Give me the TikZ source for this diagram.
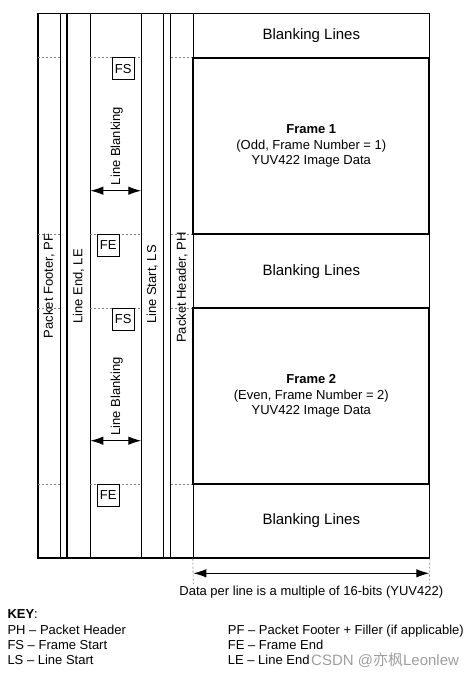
\documentclass[tikz,border=0pt]{standalone}
\usepackage{fontspec}
\setmainfont{Liberation Sans}
\newfontfamily\cjkfont{Noto Sans CJK SC}
\usetikzlibrary{arrows.meta}
\begin{document}
\begin{tikzpicture}[x=1pt,y=-1pt,
  thinline/.style={line width=1.1pt},
  lbl/.style={font=\fontsize{13}{15.5}\selectfont},
  vlabel/.style={lbl,rotate=90,inner sep=0pt},
  blankbox/.style={draw,line width=1.1pt,minimum width=236pt,inner sep=0pt,
    font=\fontsize{15}{18}\selectfont},
  framebox/.style={draw,line width=2.2pt,minimum width=236pt,inner sep=0pt,
    align=center,font=\fontsize{13}{15.5}\selectfont},
  tagbox/.style={draw,line width=1.1pt,minimum size=22pt,inner sep=0pt,
    font=\fontsize{13}{15.5}\selectfont},
  guide/.style={draw=gray,line width=0.6pt,dash pattern=on 2pt off 2pt},
  dimarrow/.style={line width=1.2pt,{Latex[length=13pt,width=8.5pt]}-{Latex[length=13pt,width=8.5pt]}},
  keytext/.style={lbl,anchor=base west,inner sep=0pt}]
\useasboundingbox (0,0) rectangle (474,676);

% column area
\coordinate (otl) at (38,13.3);
\coordinate (obr) at (193.3,558);
\draw[thinline] (otl) rectangle (obr);
\foreach \x/\n in {60.3/a,67/b,90.3/c,141.3/d,163.8/e,170.5/f}{
  \coordinate (t\n) at (\x,13.3);
  \coordinate (b\n) at (\x,558);
  \draw[thinline] (t\n) -- (b\n);
}

% dashed guides across the columns
\foreach \y/\m in {57.7/p,234.3/q,308/r,484/s}{
  \coordinate (g1\m) at (38,\y);   \coordinate (g2\m) at (60.3,\y);
  \coordinate (g3\m) at (90.3,\y); \coordinate (g4\m) at (141.3,\y);
  \coordinate (g5\m) at (170.5,\y);\coordinate (g6\m) at (193.3,\y);
  \draw[guide] (g1\m) -- (g2\m);
  \draw[guide] (g3\m) -- (g4\m);
  \draw[guide] (g5\m) -- (g6\m);
}

% right side boxes
\node[blankbox,minimum height=44.4pt] (bl1) at (311.3,35.5) {Blanking Lines};
\node[blankbox,minimum height=73.7pt] (bl2) at (311.3,271.15) {Blanking Lines};
\node[blankbox,minimum height=74pt] (bl3) at (311.3,521) {Blanking Lines};
\node[framebox,minimum height=176.6pt] (fr1) at (311.3,146) {\textbf{Frame 1}\\(Odd, Frame Number = 1)\\YUV422 Image Data};
\node[framebox,minimum height=176pt] (fr2) at (311.3,396) {\textbf{Frame 2}\\(Even, Frame Number = 2)\\YUV422 Image Data};

% column labels
\node[vlabel] (pf) at (49,286) {Packet Footer, PF};
\node[vlabel] (le) at (78.5,286.5) {Line End, LE};
\node[vlabel] (ls) at (152.3,284.5) {Line Start, LS};
\node[vlabel] (ph) at (182,287.5) {Packet Header, PH};

% FS / FE tags
\node[tagbox] (fs1) at (123.3,68.8) {FS};
\node[tagbox] (fe1) at (108.3,245.2) {FE};
\node[tagbox] (fs2) at (123.3,319.1) {FS};
\node[tagbox] (fe2) at (108.3,495.2) {FE};

% line blanking
\node[vlabel] (lb1) at (116.7,146) {Line Blanking};
\coordinate (lb1l) at (90.3,190.7); \coordinate (lb1r) at (141.3,190.7);
\draw[dimarrow] (lb1l) -- (lb1r);
\node[vlabel] (lb2) at (116.7,396.5) {Line Blanking};
\coordinate (lb2l) at (90.3,440.7); \coordinate (lb2r) at (141.3,440.7);
\draw[dimarrow] (lb2l) -- (lb2r);

% data width dimension
\coordinate (dl) at (193.3,584); \coordinate (dr) at (429.3,584);
\draw[guide] (bl3.south west) -- (dl);
\draw[guide] (bl3.south east) -- (dr);
\coordinate (al) at (193.3,573.3); \coordinate (ar) at (429.3,573.3);
\draw[dimarrow] (al) -- (ar);
\node[lbl,anchor=base,inner sep=0pt] (dtext) at (311.3,595) {Data per line is a multiple of 16-bits (YUV422)};

% key
\node[keytext] (key) at (7.3,618.2) {\textbf{KEY}:};
\node[keytext] (k1) at (7.3,634.2) {PH -- Packet Header};
\node[keytext] (k2) at (7.3,649) {FS -- Frame Start};
\node[keytext] (k3) at (7.3,664.8) {LS -- Line Start};
\node[keytext] (k4) at (227.7,634.2) {PF -- Packet Footer + Filler (if applicable)};
\node[keytext] (k5) at (227.7,649) {FE -- Frame End};
\node[keytext] (k6) at (227.7,664.8) {LE -- Line End};
\node[keytext,font=\fontsize{15}{17}\selectfont,text=black!38] (wm) at (311,665.5) {CSDN @{\cjkfont 亦枫}Leonlew};
\end{tikzpicture}
\end{document}
